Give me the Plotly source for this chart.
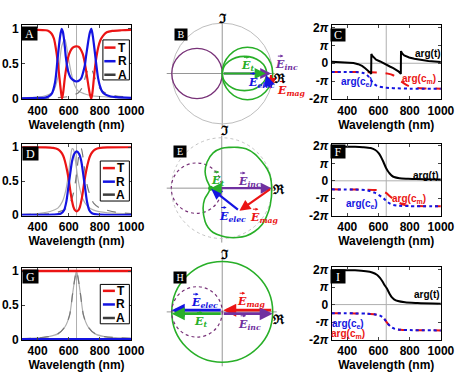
import numpy as np
import plotly.graph_objects as go

W, H = 474, 388
PI = np.pi
RES_WL = 650  # thin reference line (nm)

# ---------------- Panel A (spectra) ----------------
A_T_wl = [300, 400, 450, 470, 490, 505, 522, 537, 549, 557, 565, 574, 585, 595, 610, 626, 647, 665, 678, 690,
          699, 710, 720, 728, 736, 745, 753, 761, 769, 778, 790, 802, 820, 844, 880, 940, 1000]
A_T = [0.985, 0.985, 0.98, 0.97, 0.93, 0.86, 0.65, 0.37, 0.12, 0.0, 0.1, 0.28, 0.45, 0.58, 0.68, 0.73, 0.75, 0.74, 0.70, 0.64,
       0.56, 0.42, 0.28, 0.16, 0.06, 0.0, 0.1, 0.28, 0.45, 0.6, 0.74, 0.83, 0.9, 0.95, 0.97, 0.98, 0.985]
A_R_wl = [300, 400, 450, 470, 491, 512, 528, 541, 549, 555, 562, 568, 575, 581, 590, 599, 612, 626, 650, 668,
          682, 693, 703, 712, 720, 728, 736, 745, 753, 761, 770, 778, 788, 799, 815, 834, 870, 907, 1000]
A_R = [0.005, 0.01, 0.015, 0.03, 0.07, 0.23, 0.56, 0.83, 0.95, 1.0, 0.96, 0.88, 0.74, 0.6, 0.46, 0.37, 0.3, 0.27, 0.245, 0.26,
       0.3, 0.38, 0.47, 0.62, 0.74, 0.86, 0.95, 1.0, 0.92, 0.79, 0.62, 0.47, 0.3, 0.19, 0.1, 0.06, 0.03, 0.02, 0.01]
A_e_wl = [300, 400, 450, 500, 530, 555, 575, 590, 600, 620, 640, 660, 700, 750, 800, 900, 1000]
A_e = [0.01, 0.02, 0.04, 0.1, 0.3, 0.75, 0.85, 0.7, 0.56, 0.33, 0.18, 0.11, 0.07, 0.04, 0.03, 0.015, 0.01]
A_m_wl = [300, 500, 600, 640, 660, 682, 700, 720, 740, 760, 780, 802, 844, 900, 1000]
A_m = [0.005, 0.01, 0.03, 0.06, 0.08, 0.14, 0.26, 0.4, 0.45, 0.35, 0.22, 0.14, 0.07, 0.04, 0.02]

# ---------------- Panel D (spectra) ----------------
D_T_wl = [300, 450, 500, 530, 550, 565, 575, 590, 600, 610, 620, 630, 640, 651, 662, 672, 682, 692, 702, 712,
          727, 737, 752, 772, 800, 850, 1000]
D_T = [1.0, 0.998, 0.99, 0.97, 0.93, 0.87, 0.8, 0.65, 0.52, 0.36, 0.22, 0.12, 0.07, 0.05, 0.07, 0.12, 0.22, 0.36, 0.52, 0.65,
       0.8, 0.87, 0.93, 0.97, 0.99, 0.998, 1.0]
D_R_wl = [300, 500, 550, 570, 585, 597, 610, 622, 635, 651, 667, 680, 692, 705, 717, 732, 752, 800, 1000]
D_R = [0.0, 0.003, 0.02, 0.07, 0.2, 0.4, 0.62, 0.8, 0.9, 0.94, 0.9, 0.8, 0.62, 0.4, 0.2, 0.07, 0.02, 0.003, 0.0]
D_e_wl = [300, 400, 480, 530, 560, 580, 595, 610, 622, 630, 640, 655, 670, 690, 720, 760, 850, 1000]
D_e = [0.01, 0.02, 0.05, 0.1, 0.2, 0.35, 0.55, 0.82, 0.98, 0.97, 0.85, 0.6, 0.4, 0.24, 0.13, 0.07, 0.03, 0.015]
D_m_wl = [300, 450, 530, 580, 610, 630, 645, 660, 672, 680, 692, 705, 720, 740, 761, 800, 844, 900, 1000]
D_m = [0.005, 0.015, 0.04, 0.09, 0.18, 0.32, 0.52, 0.8, 0.97, 0.98, 0.85, 0.62, 0.42, 0.27, 0.17, 0.1, 0.07, 0.04, 0.02]

# ---------------- Panel G (spectra) ----------------
G_flat_wl = [300, 650, 1000]
G_T = [1.0, 1.0, 1.0]
G_R = [0.0, 0.0, 0.0]
G_A_wl = [300, 400, 470, 530, 575, 605, 625, 640, 650, 660, 675, 695, 725, 770, 830, 900, 1000]
G_A = [0.01, 0.02, 0.04, 0.08, 0.18, 0.35, 0.67, 0.9, 1.0, 0.9, 0.67, 0.35, 0.18, 0.08, 0.04, 0.025, 0.015]

# ---------------- Phases (in units of pi) ----------------
C_t_wl = [300, 350, 400, 440, 470, 495, 515, 530, 542, 550, 553.5, 554.5, 560, 569, 585, 611, 631, 650, 673, 695,
          714, 728, 737, 743.5, 744.5, 752, 765, 797, 830, 860, 920, 1000]
C_t = [0.08, 0.07, 0.05, 0.01, -0.05, -0.15, -0.28, -0.38, -0.47, -0.55, -0.6, 0.52, 0.42, 0.33, 0.2, 0.1, 0.0, -0.07, -0.18, -0.27,
       -0.36, -0.45, -0.53, -0.6, 0.68, 0.55, 0.44, 0.32, 0.25, 0.2, 0.13, 0.07]
C_cm_wl = [300, 450, 550, 600, 631, 660, 694, 715, 735, 756, 776, 800, 839, 900, 1000]
C_cm = [-0.49, -0.49, -0.5, -0.52, -0.54, -0.58, -0.67, -0.8, -0.94, -1.08, -1.2, -1.3, -1.38, -1.41, -1.42]
C_ce_wl = [300, 400, 470, 495, 510, 525, 538, 549, 559, 570, 580, 600, 631, 670, 714, 800, 1000]
C_ce = [-0.49, -0.49, -0.5, -0.53, -0.57, -0.65, -0.76, -0.9, -1.03, -1.13, -1.21, -1.3, -1.35, -1.38, -1.4, -1.42, -1.43]

F_t_wl = [300, 450, 500, 550, 580, 600, 615, 632, 648, 660, 672, 685, 700, 735, 790, 840, 1000]
F_t = [1.96, 1.95, 1.93, 1.88, 1.77, 1.6, 1.4, 1.08, 0.75, 0.56, 0.42, 0.3, 0.22, 0.15, 0.12, 0.1, 0.07]
F_cm_wl = [300, 500, 580, 611, 635, 653, 675, 700, 735, 765, 797, 850, 1000]
F_cm = [-0.49, -0.5, -0.52, -0.55, -0.62, -0.72, -0.9, -1.08, -1.27, -1.38, -1.43, -1.45, -1.46]
F_ce_wl = [300, 450, 520, 549, 575, 600, 620, 635, 653, 672, 694, 730, 800, 1000]
F_ce = [-0.49, -0.5, -0.53, -0.6, -0.68, -0.8, -0.92, -1.02, -1.17, -1.3, -1.38, -1.43, -1.45, -1.46]

I_t_wl = [300, 450, 520, 560, 590, 610, 625, 640, 650, 660, 672, 685, 700, 725, 770, 850, 1000]
I_t = [1.97, 1.95, 1.9, 1.83, 1.7, 1.52, 1.33, 1.1, 0.97, 0.82, 0.6, 0.42, 0.3, 0.2, 0.13, 0.09, 0.05]
I_c_wl = [300, 450, 530, 580, 610, 630, 645, 655, 668, 685, 705, 740, 800, 1000]
I_ce = [-0.49, -0.5, -0.52, -0.56, -0.63, -0.74, -0.9, -1.03, -1.17, -1.3, -1.38, -1.43, -1.45, -1.47]
I_cm = [-0.49, -0.5, -0.52, -0.56, -0.63, -0.74, -0.9, -1.03, -1.17, -1.3, -1.38, -1.43, -1.45, -1.47]

# ---------------- Phasor diagrams ----------------
E_t_re = [0.99, 0.96, 0.88, 0.8, 0.65, 0.48, 0.3, 0.16, 0.0, -0.17, -0.27, -0.33, -0.37, -0.34, -0.27, -0.23,
          -0.3, -0.33, -0.29, -0.17, 0.0, 0.16, 0.32, 0.48, 0.65, 0.8, 0.9, 0.96, 0.99]
E_t_im = [0.0, -0.34, -0.58, -0.72, -0.86, -0.95, -0.98, -0.98, -0.95, -0.88, -0.78, -0.66, -0.4, -0.22, -0.1, 0.0,
          0.17, 0.33, 0.52, 0.70, 0.79, 0.81, 0.81, 0.78, 0.68, 0.52, 0.38, 0.24, 0.0]
B_loops = [(0.0, 1.0, -0.52, 0.52), (0.0, 0.88, -0.34, 0.34)]
UNIT_CIRCLE = (0.0, 1.0)
ELEC_CIRCLE = (-0.5, 0.5)
B_vectors = [("inc", 0.0, 0.0, 0.97, 0.0), ("t", 0.0, 0.0, 0.86, 0.0),
             ("mag", 0.97, 0.0, 0.95, -0.3), ("elec", 0.95, -0.3, 0.87, -0.03)]
E_vectors = [("inc", -0.2, 0.0, 0.99, 0.0), ("mag", 0.99, 0.0, 0.35, -0.45),
             ("elec", 0.35, -0.45, -0.21, -0.01), ("t", 0.0, 0.0, -0.22, 0.0)]
H_vectors = [("elec", 0.0, 0.035, -1.0, 0.035), ("mag", 1.0, 0.035, 0.02, 0.035),
             ("t", 0.0, -0.035, -1.0, -0.035), ("inc", 0.0, -0.035, 1.0, -0.035)]

# ---------------- styling ----------------
FONT = "Liberation Sans"
SERIF = "DejaVu Serif"
RED = "rgb(235,20,20)"
BLUE = "rgb(20,20,225)"
GREEN = "rgb(40,175,40)"
PURPLE = "rgb(112,48,160)"
LGRAY = "rgb(175,175,175)"
DGRAY = "rgb(120,120,120)"
VEC_COLOR = {"inc": PURPLE, "t": GREEN, "mag": RED, "elec": BLUE}

fig = go.Figure()


def dom_x(a, b):
    return [a / W, b / W]


def dom_y(top, bottom):
    return [1 - bottom / H, 1 - top / H]


def akey(ref):
    return ref[0] + "axis" + ref[1:]


spec_axes = {
    "A": ("x", "y", (22.7, 135), (21, 97.3)),
    "D": ("x2", "y2", (22.7, 135), (143.3, 217.3)),
    "G": ("x3", "y3", (22.7, 135), (271, 345.7)),
    "C": ("x4", "y4", (341.7, 454.3), (21, 97.3)),
    "F": ("x5", "y5", (341.7, 454.3), (143.3, 217.7)),
    "I": ("x6", "y6", (341.7, 454.3), (270.7, 345.7)),
}
tfont = dict(family=FONT, size=12, color="black", weight="bold")

layout = {}
shapes = []
annotations = []
for name, (xr, yr, xpx, ypx) in spec_axes.items():
    layout[akey(xr)] = dict(domain=dom_x(*xpx), anchor=yr, range=[300, 1000], tickvals=[400, 600, 800, 1000],
                            ticks="inside", ticklen=3, showline=True, linecolor="black", linewidth=1,
                            mirror="ticks", showgrid=False, zeroline=False, tickfont=tfont,
                            title=dict(text="Wavelength (nm)", font=tfont, standoff=1))
    if name in ("A", "D", "G"):
        ydict = dict(range=[-0.01, 1.05], tickvals=[0, 0.5, 1], ticktext=["0", "0.5", "1"])
    else:
        ydict = dict(range=[-2 * PI - 0.05, 2 * PI + 0.38], tickvals=[-2 * PI, -PI, 0, PI, 2 * PI],
                     ticktext=["-2<i>π</i>", "-<i>π</i>", "0", "<i>π</i>", "2<i>π</i>"])
        shapes.append(dict(type="line", xref=xr + " domain", yref=yr, x0=0, x1=1, y0=0, y1=0,
                           line=dict(color=LGRAY, width=1), layer="below"))
    layout[akey(yr)] = dict(domain=dom_y(*ypx), anchor=xr, ticks="inside", ticklen=3, showline=True,
                            linecolor="black", linewidth=1, mirror="ticks", showgrid=False, zeroline=False,
                            tickfont=tfont, **ydict)
    shapes.append(dict(type="line", xref=xr, yref=yr + " domain", x0=RES_WL, x1=RES_WL, y0=0, y1=1,
                       line=dict(color=LGRAY, width=1), layer="below"))


def add_line(xr, yr, x, y, color, width=2.2, dash="solid", shape="spline", scale=1.0):
    fig.add_trace(go.Scatter(x=x, y=[v * scale for v in y], xaxis=xr, yaxis=yr, mode="lines",
                             line=dict(color=color, width=width, dash=dash, shape=shape, smoothing=0.8),
                             showlegend=False, hoverinfo="skip"))


add_line("x", "y", A_e_wl, A_e, LGRAY, 1.2)
add_line("x", "y", A_m_wl, A_m, DGRAY, 1.2, "dash")
add_line("x", "y", A_T_wl, A_T, RED)
add_line("x", "y", A_R_wl, A_R, BLUE)

add_line("x2", "y2", D_e_wl, D_e, LGRAY, 1.2)
add_line("x2", "y2", D_m_wl, D_m, DGRAY, 1.2, "dash")
add_line("x2", "y2", D_T_wl, D_T, RED)
add_line("x2", "y2", D_R_wl, D_R, BLUE)

add_line("x3", "y3", G_A_wl, G_A, LGRAY, 1.2)
add_line("x3", "y3", G_A_wl, G_A, DGRAY, 1.2, "dash")
add_line("x3", "y3", G_flat_wl, G_T, RED, 2.5, shape="linear")
add_line("x3", "y3", G_flat_wl, G_R, BLUE, 2.5, shape="linear")

add_line("x4", "y4", C_cm_wl, C_cm, RED, 2, "dash", scale=PI)
add_line("x4", "y4", C_ce_wl, C_ce, BLUE, 2, "dot", scale=PI)
add_line("x4", "y4", C_t_wl, C_t, "black", 2, shape="linear", scale=PI)

add_line("x5", "y5", F_cm_wl, F_cm, RED, 2, "dash", scale=PI)
add_line("x5", "y5", F_ce_wl, F_ce, BLUE, 2, "dot", scale=PI)
add_line("x5", "y5", F_t_wl, F_t, "black", 2, scale=PI)

add_line("x6", "y6", I_c_wl, I_cm, RED, 2, "dash", scale=PI)
add_line("x6", "y6", I_c_wl, I_ce, BLUE, 2, "dot", scale=PI)
add_line("x6", "y6", I_t_wl, I_t, "black", 2, scale=PI)

phase_labels = [
    ("x4", "y4", 0.879, 0.62, "arg(t)", "black"),
    ("x4", "y4", 0.802, 0.279, "arg(c<sub>m</sub>)", RED),
    ("x4", "y4", 0.234, 0.236, "arg(c<sub>e</sub>)", BLUE),
    ("x5", "y5", 0.864, 0.565, "arg(t)", "black"),
    ("x5", "y5", 0.711, 0.238, "arg(c<sub>m</sub>)", RED),
    ("x5", "y5", 0.282, 0.171, "arg(c<sub>e</sub>)", BLUE),
    ("x6", "y6", 0.873, 0.632, "arg(t)", "black"),
    ("x6", "y6", 0.154, 0.222, "arg(c<sub>e</sub>)", BLUE),
    ("x6", "y6", 0.154, 0.082, "arg(c<sub>m</sub>)", RED),
]
for xr, yr, xd, yd, txt, col in phase_labels:
    annotations.append(dict(xref=xr + " domain", yref=yr + " domain", x=xd, y=yd, text=txt, showarrow=False,
                            font=dict(family=FONT, size=10, color=col, weight="bold"),
                            xanchor="center", yanchor="middle"))

legend_specs = [
    ("x", "y", (0.742, 0.985, 0.262, 0.803), (0.699, 0.515, 0.332), (0.755, 0.858), 0.92),
    ("x2", "y2", (0.718, 0.985, 0.203, 0.761), (0.662, 0.473, 0.292), (0.742, 0.852), 0.905),
    ("x3", "y3", (0.718, 0.985, 0.224, 0.768), (0.679, 0.491, 0.304), (0.742, 0.852), 0.905),
]
legend_entries = [("T", RED), ("R", BLUE), ("A", "rgb(60,60,60)")]
for xr, yr, box, rows, lx, tx in legend_specs:
    shapes.append(dict(type="rect", xref=xr + " domain", yref=yr + " domain", x0=box[0], x1=box[1],
                       y0=box[2], y1=box[3], line=dict(color="black", width=1), fillcolor="white", layer="above"))
    for (lab, col), ry in zip(legend_entries, rows):
        shapes.append(dict(type="line", xref=xr + " domain", yref=yr + " domain", x0=lx[0], x1=lx[1],
                           y0=ry, y1=ry, line=dict(color=col, width=2.5), layer="above"))
        annotations.append(dict(xref=xr + " domain", yref=yr + " domain", x=tx, y=ry, text=lab, showarrow=False,
                                font=dict(family=FONT, size=12, color="black", weight="bold"),
                                xanchor="center", yanchor="middle"))

# ---------------- phasor panels ----------------
U = 52.0
phasor_axes = {
    "B": ("x7", "y7", (160, 310), (5, 135), (229, 70.7)),
    "E": ("x8", "y8", (160, 310), (128, 252), (228.5, 189)),
    "H": ("x9", "y9", (160, 310), (253, 386), (229, 316.7)),
}
for name, (xr, yr, xpx, ypx, c) in phasor_axes.items():
    layout[akey(xr)] = dict(domain=dom_x(*xpx), anchor=yr, visible=False,
                            range=[(xpx[0] - c[0]) / U, (xpx[1] - c[0]) / U])
    layout[akey(yr)] = dict(domain=dom_y(*ypx), anchor=xr, visible=False,
                            range=[(c[1] - ypx[1]) / U, (c[1] - ypx[0]) / U])

axis_extent = {"B": ((-1.1, 1.04), (-1.04, 1.04)), "E": ((-1.09, 0.99), (-1.08, 1.04)),
               "H": ((-1.1, 1.08), (-1.08, 1.19))}


def circ(xr, yr, cx, r, color, width, dash="solid"):
    return dict(type="circle", xref=xr, yref=yr, x0=cx - r, x1=cx + r, y0=-r, y1=r,
                line=dict(color=color, width=width, dash=dash), layer="below")


for name, (xr, yr, xpx, ypx, c) in phasor_axes.items():
    (hx0, hx1), (vy0, vy1) = axis_extent[name]
    shapes.append(dict(type="line", xref=xr, yref=yr, x0=hx0, x1=hx1, y0=0, y1=0,
                       line=dict(color="rgb(150,150,150)", width=1), layer="below"))
    shapes.append(dict(type="line", xref=xr, yref=yr, x0=0, x1=0, y0=vy0, y1=vy1,
                       line=dict(color="rgb(150,150,150)", width=1), layer="below"))

shapes.append(circ("x7", "y7", UNIT_CIRCLE[0], UNIT_CIRCLE[1], "rgb(190,190,190)", 1))
shapes.append(circ("x7", "y7", ELEC_CIRCLE[0], ELEC_CIRCLE[1], "rgb(120,50,120)", 1.3))
for (a0, a1, b0, b1) in B_loops:
    shapes.append(dict(type="circle", xref="x7", yref="y7", x0=a0, x1=a1, y0=b0, y1=b1,
                       line=dict(color=GREEN, width=1.6), layer="below"))

shapes.append(circ("x8", "y8", UNIT_CIRCLE[0], UNIT_CIRCLE[1], "rgb(195,195,195)", 1, "dot"))
shapes.append(circ("x8", "y8", ELEC_CIRCLE[0], ELEC_CIRCLE[1], "rgb(120,50,120)", 1.2, "dot"))
fig.add_trace(go.Scatter(x=E_t_re, y=E_t_im, xaxis="x8", yaxis="y8", mode="lines",
                         line=dict(color=GREEN, width=1.6, shape="spline", smoothing=0.9),
                         showlegend=False, hoverinfo="skip"))
fig.add_trace(go.Scatter(x=[E_vectors[3][3]], y=[E_vectors[3][4]], xaxis="x8", yaxis="y8", mode="markers",
                         marker=dict(color=GREEN, size=5), showlegend=False, hoverinfo="skip"))

shapes.append(circ("x9", "y9", UNIT_CIRCLE[0], UNIT_CIRCLE[1], GREEN, 1.6))
shapes.append(circ("x9", "y9", ELEC_CIRCLE[0], ELEC_CIRCLE[1], "rgb(120,50,120)", 1.2, "dot"))

for xr, yr, vecs, w in (("x7", "y7", B_vectors, 2.2), ("x8", "y8", E_vectors, 2.2), ("x9", "y9", H_vectors, 2.6)):
    for nm, tx0, ty0, hx, hy in vecs:
        annotations.append(dict(xref=xr, yref=yr, axref=xr, ayref=yr, x=hx, y=hy, ax=tx0, ay=ty0, text="",
                                showarrow=True, arrowhead=2, arrowsize=1, arrowwidth=w,
                                arrowcolor=VEC_COLOR[nm], standoff=0, startstandoff=0))

# vector labels: left edge position (Re, Im); small arrow drawn over the E
vec_labels = [
    ("x7", "y7", "t", 0.34, 0.142), ("x7", "y7", "inc", 1.013, 0.167),
    ("x7", "y7", "elec", 0.465, -0.179), ("x7", "y7", "mag", 1.05, -0.338),
    ("x8", "y8", "t", -0.246, 0.14), ("x8", "y8", "inc", 0.273, 0.121),
    ("x8", "y8", "elec", -0.1, -0.563), ("x8", "y8", "mag", 0.529, -0.596),
    ("x9", "y9", "elec", -0.667, 0.173), ("x9", "y9", "mag", 0.256, 0.192),
    ("x9", "y9", "t", -0.59, -0.192), ("x9", "y9", "inc", 0.275, -0.256),
]
for xr, yr, nm, lx, ly in vec_labels:
    annotations.append(dict(xref=xr, yref=yr, x=lx, y=ly,
                            text="<b><i>E</i></b><sub><b><i>%s</i></b></sub>" % nm, showarrow=False,
                            font=dict(family=SERIF, size=11, color=VEC_COLOR[nm]),
                            xanchor="left", yanchor="middle"))
    annotations.append(dict(xref=xr, yref=yr, x=lx, y=ly, ax=-7, ay=0, text="", showarrow=True,
                            arrowhead=2, arrowsize=0.6, arrowwidth=1, arrowcolor=VEC_COLOR[nm],
                            xshift=10, yshift=9, standoff=0, startstandoff=0))

axis_symbols = [("x7", "y7", 1.14, -0.09, 0.02, 1.09), ("x8", "y8", 1.12, -0.02, 0.067, 1.135),
                ("x9", "y9", 1.11, -0.16, 0.058, 1.13)]
for xr, yr, rx, ryy, ix, iy in axis_symbols:
    annotations.append(dict(xref=xr, yref=yr, x=rx, y=ryy, text="<b>ℜ</b>", showarrow=False,
                            font=dict(family=SERIF, size=13, color="black"), xanchor="center", yanchor="middle"))
    annotations.append(dict(xref=xr, yref=yr, x=ix, y=iy, text="<b>ℑ</b>", showarrow=False,
                            font=dict(family=SERIF, size=13, color="black"), xanchor="center", yanchor="middle"))

panel_letters = [("A", 30.5, 29, 15, 13, 12), ("D", 31, 153, 15, 13, 12), ("G", 31, 280.5, 15, 13, 12),
                 ("C", 348.7, 31.3, 14, 12, 12), ("F", 348.7, 151, 14, 13, 12), ("I", 348.7, 280, 14, 13, 12),
                 ("B", 187, 30, 12, 11, 10), ("E", 185.5, 151, 12, 11, 10), ("H", 185.5, 281, 12, 11, 10)]
for lab, px, py, bw, bh, fs in panel_letters:
    annotations.append(dict(xref="paper", yref="paper", x=px / W, y=1 - py / H, text=lab, showarrow=False,
                            font=dict(family="Liberation Serif", size=fs, color="white"),
                            bgcolor="black", width=bw, height=bh, borderpad=0,
                            xanchor="center", yanchor="middle"))

fig.update_layout(**layout)
fig.update_layout(width=W, height=H, margin=dict(l=0, r=0, t=0, b=0), paper_bgcolor="white",
                  plot_bgcolor="white", showlegend=False, shapes=shapes, annotations=annotations)
fig.write_html("out.html", config={"displayModeBar": False},
               post_script="document.body.style.margin='0px';")
